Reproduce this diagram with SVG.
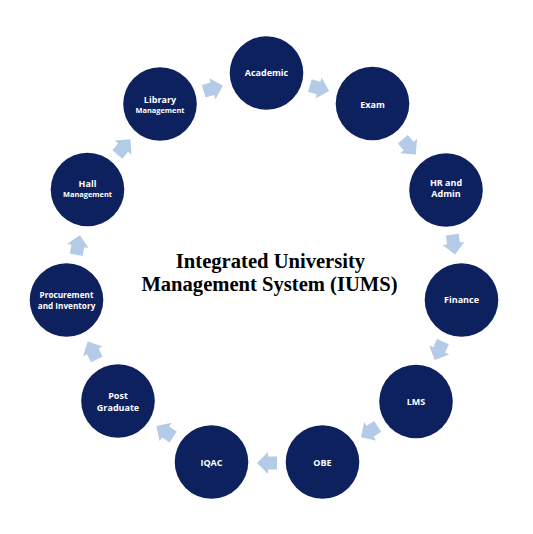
<svg xmlns="http://www.w3.org/2000/svg" width="533" height="534" viewBox="0 0 533 534">
<defs>
<style>
.n{fill:#0D215F;}
.t{fill:#ffffff;font-family:"Open Sans","Liberation Sans",sans-serif;font-weight:700;text-anchor:middle;font-size:9px;}
.s{font-size:7.4px;}
.p{font-size:8.2px;}
.a{fill:#B4CBE7;}
.title{fill:#000000;font-family:"Liberation Serif","Times New Roman",serif;font-weight:700;font-size:20.6px;text-anchor:middle;}
</style>
<polygon id="arr" class="a" points="-10,-6.5 -1,-6.5 -1,-11 10,0 -1,11 -1,6.5 -10,6.5"/>
</defs>
<rect width="533" height="534" fill="#ffffff"/>
<g id="connectors">
<use href="#arr" transform="translate(319.5,88.3) rotate(16.05)"/>
<use href="#arr" transform="translate(409.3,146.8) rotate(49.65)"/>
<use href="#arr" transform="translate(453.6,244.5) rotate(81.98)"/>
<use href="#arr" transform="translate(438.8,350.8) rotate(114.14)"/>
<use href="#arr" transform="translate(369.3,431.8) rotate(147.09)"/>
<use href="#arr" transform="translate(267,463) rotate(180)"/>
<use href="#arr" transform="translate(164.8,431.5) rotate(213.12)"/>
<use href="#arr" transform="translate(92.3,350.5) rotate(242.99)"/>
<use href="#arr" transform="translate(78,245) rotate(280.76)"/>
<use href="#arr" transform="translate(123.8,146.8) rotate(-49.7)"/>
<use href="#arr" transform="translate(213.3,88.5) rotate(-16.23)"/>
</g>
<g id="academic"><circle class="n" cx="266.5" cy="73" r="36.8"/><text class="t" x="266.5" y="76">Academic</text></g>
<g id="exam"><circle class="n" cx="372.5" cy="103.5" r="36.8"/><text class="t" x="372.5" y="107.5">Exam</text></g>
<g id="hr"><circle class="n" cx="446" cy="190" r="36.8"/><text class="t" x="446" y="185.5">HR and</text><text class="t" x="446" y="197">Admin</text></g>
<g id="finance"><circle class="n" cx="461.5" cy="300" r="36.8"/><text class="t" x="461.5" y="303">Finance</text></g>
<g id="lms"><circle class="n" cx="416" cy="401.5" r="36.8"/><text class="t" x="416" y="405">LMS</text></g>
<g id="obe"><circle class="n" cx="322.5" cy="462" r="36.8"/><text class="t" x="322.5" y="465.5">OBE</text></g>
<g id="iqac"><circle class="n" cx="211.5" cy="462" r="36.8"/><text class="t" x="211.5" y="465.5">IQAC</text></g>
<g id="postgraduate"><circle class="n" cx="118" cy="401" r="36.8"/><text class="t" x="118" y="399">Post</text><text class="t" x="118" y="410.5">Graduate</text></g>
<g id="procurement"><circle class="n" cx="66.5" cy="300" r="36.8"/><text class="t p" x="66.5" y="298">Procurement</text><text class="t p" x="66.5" y="308.7">and Inventory</text></g>
<g id="hall"><circle class="n" cx="87.5" cy="189.5" r="36.8"/><text class="t" x="87.5" y="187">Hall</text><text class="t s" x="87.5" y="197">Management</text></g>
<g id="library"><circle class="n" cx="160" cy="104" r="36.8"/><text class="t" x="160" y="102.5">Library</text><text class="t s" x="160" y="112.5">Management</text></g>
<g id="title"><text class="title" x="270.5" y="268">Integrated University</text><text class="title" x="269.5" y="290.5">Management System (IUMS)</text></g>
</svg>
